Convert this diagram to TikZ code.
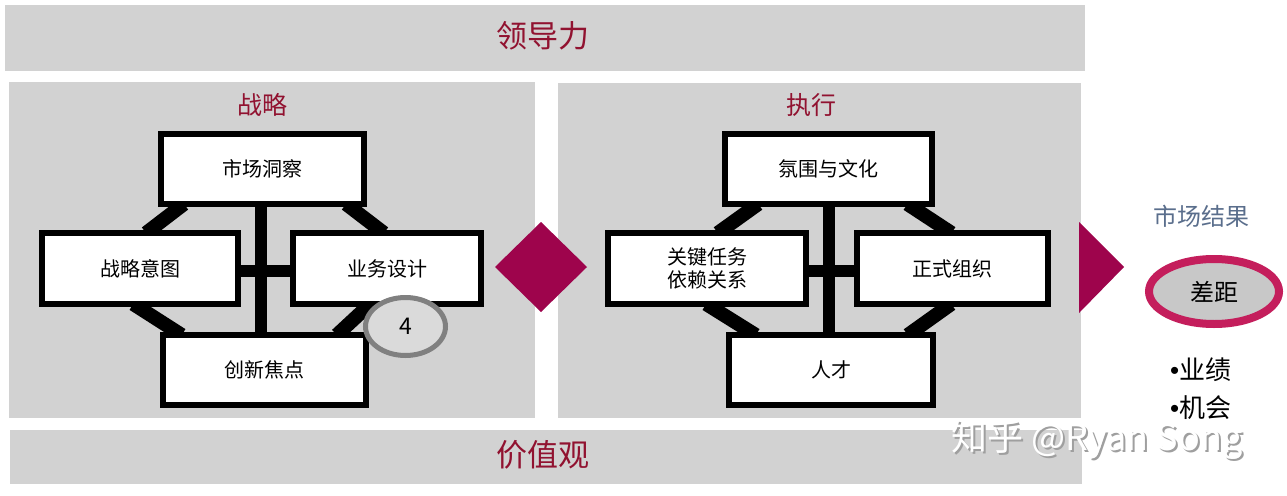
\documentclass[tikz,border=0pt]{standalone}
\usepackage{fontspec}
\setmainfont{Noto Sans CJK SC}
\newfontfamily\latinfont{Liberation Sans}
\usetikzlibrary{shapes.geometric}
\pgfdeclarelayer{back}
\pgfdeclarelayer{bg}
\pgfsetlayers{back,bg,main}
\definecolor{panelgray}{RGB}{210,210,210}
\definecolor{titlered}{RGB}{145,18,48}
\definecolor{mkred}{RGB}{158,4,76}
\definecolor{gapred}{RGB}{196,30,92}
\definecolor{gapfill}{RGB}{200,200,200}
\definecolor{slate}{RGB}{90,110,140}
\definecolor{ringgray}{RGB}{128,128,128}
\definecolor{ringfill}{RGB}{218,218,218}
\begin{document}
\begin{tikzpicture}[x=1pt,y=-1pt,
  box/.style={draw=black, line width=6pt, fill=white, rectangle, inner sep=0pt,
    outer sep=0pt, font=\fontsize{20}{23}\selectfont, align=center},
  bar/.style={line width=12pt, draw=black},
  diag/.style={line width=14pt, draw=black},
  panel/.style={fill=panelgray},
  title/.style={text=titlered, inner sep=0pt}]
\useasboundingbox (0,0) rectangle (1287,495);
\begin{pgfonlayer}{back}
\fill[white] (0,0) rectangle (1287,495);
\fill[panel] (5,5) rectangle (1085,71);
\fill[panel] (9,82) rectangle (535,418);
\fill[panel] (558,83) rectangle (1081,418);
\fill[panel] (10,430) rectangle (1082,484);
\end{pgfonlayer}

% titles
\node[title, font=\fontsize{31}{34}\selectfont] (lead) at (543,36) {领导力};
\node[title, font=\fontsize{25}{28}\selectfont] (strat) at (262,105) {战略};
\node[title, font=\fontsize{25}{28}\selectfont] (exec) at (811,105) {执行};
\node[title, font=\fontsize{31}{34}\selectfont] (value) at (543,455) {价值观};

% left panel boxes
\node[box, minimum width=203, minimum height=70] (mi) at (262.5,169) {市场洞察};
\node[box, minimum width=196, minimum height=71] (sy) at (140,268.5) {战略意图};
\node[box, minimum width=188, minimum height=71] (yw) at (387,268.5) {业务设计};
\node[box, minimum width=203, minimum height=70] (cx) at (264.5,370) {创新焦点};
\node[ellipse, draw=ringgray, fill=ringfill, line width=5pt, minimum width=80,
  minimum height=58, inner sep=0pt, font=\fontsize{23}{25}\selectfont] (four) at (405.5,326.5) {4};

% right panel boxes
\node[box, minimum width=207, minimum height=70] (fw) at (828.5,169) {氛围与文化};
\node[box, minimum width=198, minimum height=71] (gj) at (707,268.5) {关键任务\\依赖关系};
\node[box, minimum width=191, minimum height=71] (zs) at (952.5,268.5) {正式组织};
\node[box, minimum width=204, minimum height=70] (rc) at (831,370) {人才};

% connectors
\coordinate (lv) at ([xshift=-1.5pt]mi.south);
\coordinate (rv) at (fw.south);
\begin{pgfonlayer}{bg}
\draw[bar] (lv) -- (lv |- cx.north);
\draw[bar] ([yshift=-2.5pt]sy.east) -- ([yshift=-2.5pt]yw.west);
\draw[diag] ([xshift=-78.6pt]mi.south) -- ([xshift=6.1pt]sy.north);
\draw[diag] ([xshift=83.6pt]mi.south) -- ([xshift=-3.1pt]yw.north);
\draw[diag] ([xshift=-6.7pt]sy.south) -- ([xshift=-82.8pt]cx.north);
\draw[diag] ([xshift=-16.8pt]yw.south) -- ([xshift=72.3pt]cx.north);

\draw[bar] (rv) -- (rv |- rc.north);
\draw[bar] ([yshift=-2.5pt]gj.east) -- ([yshift=-2.5pt]zs.west);
\draw[diag] ([xshift=-70.3pt]fw.south) -- ([xshift=10.8pt]gj.north);
\draw[diag] ([xshift=78.9pt]fw.south) -- ([xshift=-0.9pt]zs.north);
\draw[diag] ([xshift=-0.8pt]gj.south) -- ([xshift=-75.2pt]rc.north);
\draw[diag] ([xshift=-1.3pt]zs.south) -- ([xshift=76.8pt]rc.north);
\end{pgfonlayer}

% flow arrows
\fill[mkred] (495,267) -- (541,222) -- (587,267) -- (541,312) -- cycle;
\fill[mkred] (1079,222) -- (1124,267) -- (1079,313) -- cycle;

% market result
\node[text=slate, inner sep=0pt, font=\fontsize{24}{28}\selectfont] (mr) at (1201,216) {市场结果};
\node[ellipse, draw=gapred, fill=gapfill, line width=8pt, minimum width=130,
  minimum height=65, inner sep=0pt, font=\fontsize{24}{28}\selectfont] (gap) at (1214,291.5) {差距};
\node[anchor=west, inner sep=0pt, font=\fontsize{26}{30}\selectfont] (b1) at (1170,370) {{\latinfont •}业绩};
\node[anchor=west, inner sep=0pt, font=\fontsize{26}{30}\selectfont] (b2) at (1170,408) {{\latinfont •}机会};

% watermark
\node[text=gray!75, inner sep=0pt, font=\fontsize{36}{40}\selectfont] (wm1) at (1099,442) {知乎 @Ryan Song};
\node[text=white, inner sep=0pt, font=\fontsize{36}{40}\selectfont] (wm2) at (1097,440) {知乎 @Ryan Song};
\end{tikzpicture}
\end{document}
